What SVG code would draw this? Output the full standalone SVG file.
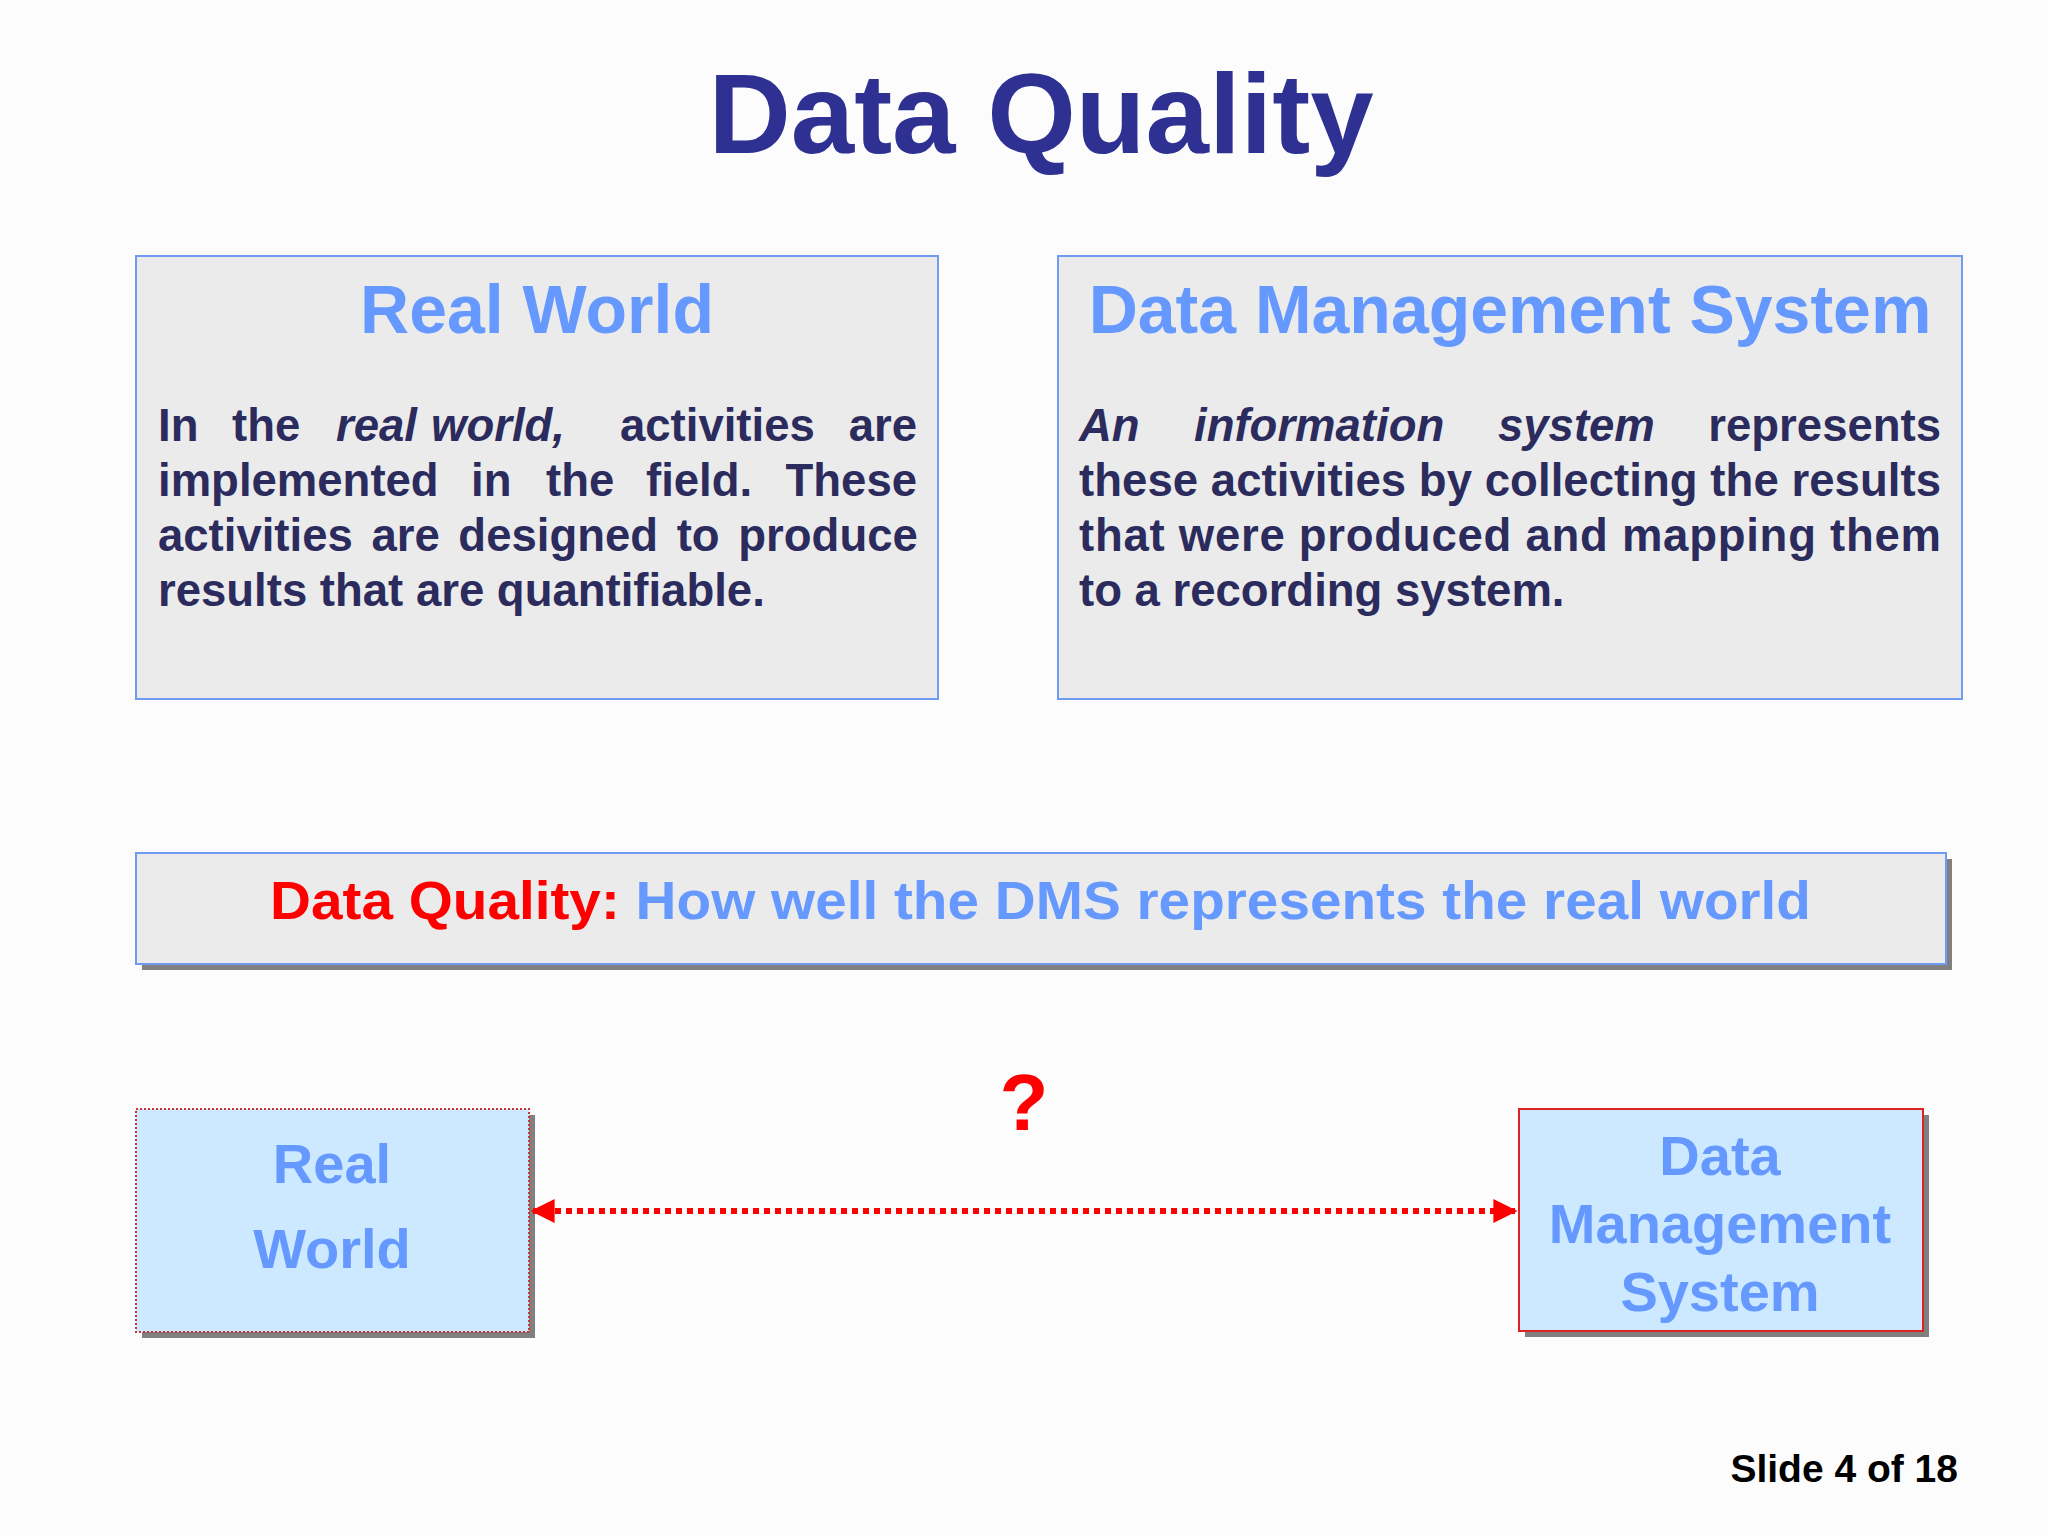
<svg xmlns="http://www.w3.org/2000/svg" width="2048" height="1536" viewBox="0 0 2048 1536">
<style>
.t{font-family:"Liberation Sans",Arial,sans-serif;font-weight:bold}
.box{fill:#ebebeb;stroke:#6f9cf0;stroke-width:2}
.hd{fill:#6699ff;font-size:68px;text-anchor:middle}
.bd{fill:#2b2b5e;font-size:45.5px}
.nd{fill:#6699ff;font-size:56px;text-anchor:middle}
.i{font-style:italic}
.e{text-anchor:end}
</style>
<defs>
<marker id="ah" viewBox="0 0 10 10" refX="9" refY="5" markerWidth="4" markerHeight="4" orient="auto-start-reverse"><path d="M0,0L10,5L0,10z" fill="#ff0000"/></marker>
</defs>
<rect width="2048" height="1536" fill="#fcfcfc"/>
<text class="t" x="1041" y="153" font-size="114" fill="#2e3192" text-anchor="middle">Data Quality</text>
<g id="realworld-desc">
<rect class="box" x="136" y="256" width="802" height="443"/>
<text class="t hd" x="537" y="333">Real World</text>
<text class="t bd" y="441"><tspan x="158">In</tspan><tspan x="232">the</tspan><tspan x="336" class="i">real</tspan><tspan x="431" class="i">world,</tspan><tspan x="620">activities</tspan></text>
<text class="t bd e" x="917" y="441">are</text>
<text class="t bd" y="496"><tspan x="158">implemented</tspan><tspan x="471">in</tspan><tspan x="546">the</tspan><tspan x="646">field.</tspan></text>
<text class="t bd e" x="917" y="496">These</text>
<text class="t bd" x="158" y="551" word-spacing="6">activities are designed to produce</text>
<text class="t bd" x="158" y="606">results that are quantifiable.</text>
</g>
<g id="dms-desc">
<rect class="box" x="1058" y="256" width="904" height="443"/>
<text class="t hd" x="1510" y="333">Data Management System</text>
<text class="t bd" y="441"><tspan x="1079" class="i">An</tspan><tspan x="1194" class="i">information</tspan><tspan x="1498" class="i">system</tspan></text>
<text class="t bd e" x="1941" y="441">represents</text>
<text class="t bd" x="1079" y="496" textLength="862" lengthAdjust="spacing">these activities by collecting the results</text>
<text class="t bd" x="1079" y="551" textLength="862" lengthAdjust="spacing">that were produced and mapping them</text>
<text class="t bd" x="1079" y="606">to a recording system.</text>
</g>
<g id="banner">
<rect x="142" y="859" width="1810" height="111" fill="#808080"/>
<rect class="box" x="136" y="853" width="1810" height="111"/>
<text class="t" x="270" y="919" font-size="54" textLength="1541" lengthAdjust="spacingAndGlyphs"><tspan fill="#ff0000">Data Quality:</tspan><tspan fill="#6699ff"> How well the DMS represents the real world</tspan></text>
</g>
<g id="node-realworld">
<rect x="142" y="1115" width="393" height="223" fill="#808080"/>
<rect x="136" y="1109" width="393" height="223" fill="#cce9ff" stroke="#cc3333" stroke-width="2" stroke-dasharray="2,2"/>
<text class="t nd" x="332" y="1183">Real</text>
<text class="t nd" x="332" y="1268">World</text>
</g>
<g id="node-dms">
<rect x="1525" y="1115" width="404" height="222" fill="#808080"/>
<rect x="1519" y="1109" width="404" height="222" fill="#cce9ff" stroke="#dd2222" stroke-width="2"/>
<text class="t nd" x="1720" y="1175">Data</text>
<text class="t nd" x="1720" y="1243">Management</text>
<text class="t nd" x="1720" y="1311">System</text>
</g>
<g id="connectors">
<line x1="533" y1="1211" x2="1515" y2="1211" stroke="#ff0000" stroke-width="6" stroke-dasharray="6,5" marker-start="url(#ah)" marker-end="url(#ah)"/>
<text class="t" x="1024" y="1130" font-size="80" fill="#ff0000" text-anchor="middle">?</text>
</g>
<text class="t" x="1958" y="1482" font-size="39" fill="#000" text-anchor="end">Slide 4 of 18</text>
</svg>
